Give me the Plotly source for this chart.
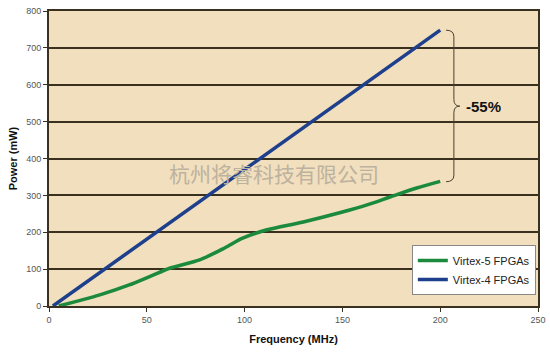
import plotly.graph_objects as go

v5_x = [5, 15, 26, 41, 52, 62, 77, 90, 99, 111, 130, 150, 163, 174, 188, 200]
v5_y = [0, 14, 30, 57, 81, 103, 125, 158, 184, 206, 228, 255, 275, 295, 320, 338]
v4_x = [2, 200]
v4_y = [0, 748]

x_ticks = [0, 50, 100, 150, 200, 250]
y_ticks = [0, 100, 200, 300, 400, 500, 600, 700, 800]

fig = go.Figure()
fig.add_trace(go.Scatter(x=v5_x, y=v5_y, mode="lines", name="Virtex-5 FPGAs",
                         line=dict(color="#1B8A3C", width=3.5, shape="spline", smoothing=0.8)))
fig.add_trace(go.Scatter(x=v4_x, y=v4_y, mode="lines", name="Virtex-4 FPGAs",
                         line=dict(color="#1E3F8C", width=3.5)))

# brace
bx0, bx1, bt = 203, 207, 210
brace = (f"M {bx0},748 Q {bx1},748 {bx1},730 L {bx1},560 Q {bx1},542 {bt},542 "
         f"Q {bx1},542 {bx1},524 L {bx1},355 Q {bx1},337 {bx0},337")
fig.add_shape(type="path", path=brace, xref="x", yref="y",
              line=dict(color="#4a4030", width=1))

fig.add_annotation(x=212, y=542, text="<b>-55%</b>", showarrow=False, xanchor="left",
                   font=dict(family="Liberation Sans, Arial", size=15, color="#111"))
fig.add_annotation(x=0.46, y=0.45, xref="paper", yref="paper", text="杭州将睿科技有限公司",
                   showarrow=False, font=dict(family="Noto Sans CJK SC", size=21, color="#bdb29f"))

fig.update_layout(
    width=550, height=353,
    margin=dict(l=49, r=12, t=11, b=47),
    paper_bgcolor="white", plot_bgcolor="#F1DFBD",
    font=dict(family="Liberation Sans, Arial", color="#444"),
    showlegend=True,
    legend=dict(x=0.742, y=0.207, xanchor="left", yanchor="top", bgcolor="white",
                bordercolor="#888", borderwidth=1, font=dict(size=11, color="#222"),
                tracegroupgap=0, itemwidth=30),
    xaxis=dict(range=[0, 250], tickvals=x_ticks, showgrid=False, zeroline=False, automargin=False,
               showline=True, linecolor="#3a3020", linewidth=2, mirror=True,
               ticks="outside", ticklen=4, tickcolor="#3a3020",
               tickfont=dict(size=9, color="#555"),
               title=dict(text="<b>Frequency (MHz)</b>", font=dict(size=11, color="#111"), standoff=12)),
    yaxis=dict(range=[0, 800], tickvals=y_ticks, showgrid=True, gridcolor="#3a3020", gridwidth=1.5,
               zeroline=False, showline=True, linecolor="#3a3020", linewidth=2, mirror=True, automargin=False,
               ticks="outside", ticklen=4, tickcolor="#3a3020",
               tickfont=dict(size=9, color="#555"),
               title=dict(text="<b>Power (mW)</b>", font=dict(size=11, color="#111"), standoff=6)),
)

fig.write_html("out.html")
